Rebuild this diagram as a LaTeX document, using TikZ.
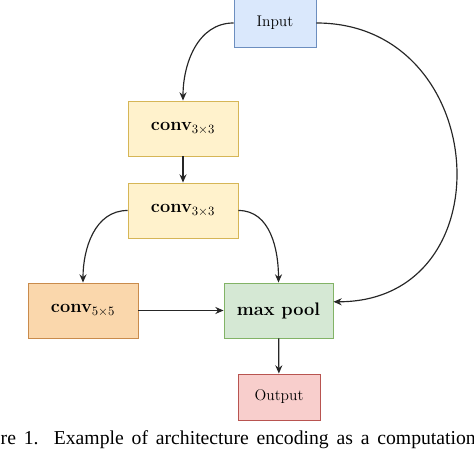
\documentclass[tikz,border=0pt]{standalone}
\usepackage{fontspec}
\usepackage{fix-cm}
\newfontfamily\capfont{Liberation Serif}
\usetikzlibrary{arrows.meta}
\definecolor{inpfill}{HTML}{DAE8FC}
\definecolor{inpdraw}{HTML}{6C8EBF}
\definecolor{convfill}{HTML}{FFF2CC}
\definecolor{convdraw}{HTML}{D6B656}
\definecolor{bigfill}{HTML}{FAD7AC}
\definecolor{bigdraw}{HTML}{C98B4C}
\definecolor{poolfill}{HTML}{D5E8D4}
\definecolor{pooldraw}{HTML}{82B366}
\definecolor{outfill}{HTML}{F8CECC}
\definecolor{outdraw}{HTML}{B85450}
\tikzset{
  op box/.style={draw, line width=0.8pt, inner sep=0pt, minimum width=33mm, minimum height=16.5mm,
    font=\fontsize{15.5}{18}\selectfont\bfseries},
  io box/.style={draw, line width=0.8pt, inner sep=0pt, minimum width=24.6mm,
    font=\fontsize{13.2}{16}\selectfont},
  flow line/.style={line width=1pt, black!85, -{Stealth[length=7pt, width=6pt]}},
}
\begin{document}
\begin{tikzpicture}[x=0.3mm, y=0.3mm]
  \useasboundingbox (0,0) rectangle (474,449);
  \node[io box, fill=inpfill, draw=inpdraw, minimum height=14.4mm] (inp) at (275,426) {Input};
  \node[op box, fill=convfill, draw=convdraw] (convA) at (183,320.5) {conv$_{3\times3}$};
  \node[op box, fill=convfill, draw=convdraw] (convB) at (183,238.5) {conv$_{3\times3}$};
  \node[op box, fill=bigfill, draw=bigdraw] (convC) at (83,138.5) {conv$_{5\times5}$};
  \node[op box, fill=poolfill, draw=pooldraw, minimum width=32.7mm] (pool) at (278.5,138.5) {max pool};
  \node[io box, fill=outfill, draw=outdraw, minimum height=13.8mm] (out) at (279,52) {Output};

  \draw[flow line] (inp.west) to[out=180, in=90] (convA.north);
  \draw[flow line] (convA) -- (convB);
  \draw[flow line] (convB.west) to[out=180, in=90] (convC.north);
  \draw[flow line] (convB.east) to[out=0, in=90] (pool.north);
  \draw[flow line] (convC) -- (pool);
  \draw[flow line] (inp.east) to[out=0, in=0, looseness=1.6] (pool.9);
  \draw[flow line] (pool) -- (out);

  % caption, cut at both sides
  \node[anchor=base west, inner sep=0pt] (cap) at (0.5,4)
    {\capfont\fontsize{16.8}{19}\selectfont\makebox[142.5mm][s]{re 1. Example of architecture encoding as a computation}};
\end{tikzpicture}
\end{document}
